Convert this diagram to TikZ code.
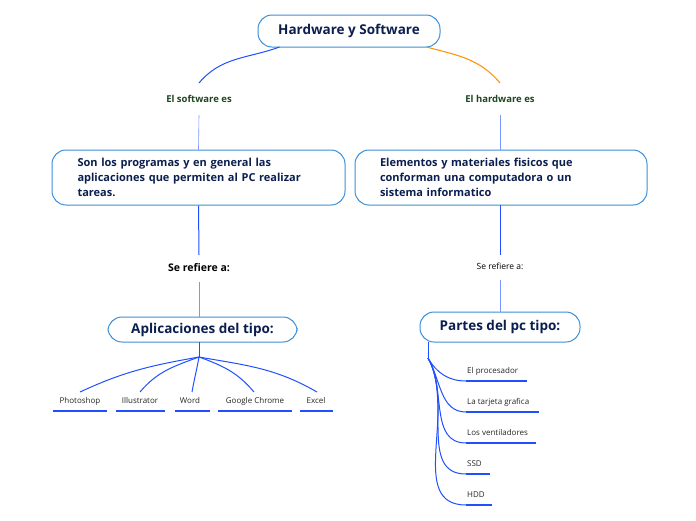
\documentclass[tikz,border=0pt]{standalone}
\usepackage{fontspec}
\setmainfont{Open Sans}
\begin{document}
\begin{tikzpicture}[x=1pt,y=-1pt,
  bx/.style={draw=boxc,line width=1pt,rounded corners=14pt,fill=white},
  lk/.style={draw=linec,line width=1pt},
  lkt/.style={draw=linec!60,line width=0.6pt},
  ul/.style={draw=linec,line width=1.6pt},
  it/.style={font=\fontsize{8}{9}\selectfont,text=black!85,inner sep=0pt}]
\definecolor{boxc}{HTML}{3C8FD6}\definecolor{linec}{HTML}{1F4FFF}
\definecolor{navy}{HTML}{0B1F4F}\definecolor{grn}{HTML}{1E4620}
\path[use as bounding box] (0,0) rectangle (696,520);
\node[bx,minimum width=182pt,minimum height=32pt,font=\bfseries\fontsize{13.5}{15}\selectfont,text=navy] (t) at (349,31) {Hardware y Software};
\node[font=\bfseries\fontsize{9.5}{11}\selectfont,text=grn] (s) at (199,99) {El software es};
\node[font=\bfseries\fontsize{9.5}{11}\selectfont,text=grn] (h) at (500,99) {El hardware es};
\draw[lk] (t.west)+(22,16) coordinate (ta) (ta) to[out=200,in=50] (199,83);
\draw[draw=orange!90!yellow,line width=1pt] (t.east)+(-14,16) coordinate (tb) (tb) to[out=-15,in=130] (500,83);
\node[bx,minimum width=293pt,minimum height=55pt,align=left,text width=242pt,font=\bfseries\fontsize{11}{15}\selectfont,text=navy] (b1) at (198.5,177.5) {Son los programas y en general las\\aplicaciones que permiten al PC realizar\\tareas.};
\node[bx,minimum width=292pt,minimum height=55pt,align=left,text width=242pt,font=\bfseries\fontsize{11}{15}\selectfont,text=navy] (b2) at (501,177.5) {Elementos y materiales fisicos que\\conforman una computadora o un\\sistema informatico};
\draw[lkt] (199,115) -- (b1.north);
\draw[lkt] (500,115) -- (500,150);
\node[font=\bfseries\fontsize{10.5}{12}\selectfont] (r1) at (199,268) {Se refiere a:};
\node[font=\fontsize{8.5}{10}\selectfont] (r2) at (500,266) {Se refiere a:};
\draw[lk] (b1.south) -- (199,255);
\draw[lk] (500,205) -- (500,255);
\node[bx,minimum width=189pt,minimum height=25pt,font=\bfseries\fontsize{13.5}{15}\selectfont,text=navy] (a) at (202.5,329.5) {Aplicaciones del tipo:};
\node[bx,minimum width=160pt,minimum height=30pt,font=\bfseries\fontsize{13.5}{15}\selectfont,text=navy] (p) at (500,327) {Partes del pc tipo:};
\draw[lkt] (199,282) -- (199,317);
\draw[lkt] (500,280) -- (p.north);
\draw[lk] (199,342) -- (199,357) coordinate (ja);
\foreach \n/\c/\a/\b/\t in {ph/80/53/107/Photoshop,il/140/116/165/Illustrator,wo/190/175/210/Word,gc/255/218/292/Google Chrome,ex/316/300/333/Excel}{
  \node[it,anchor=base] (\n) at (\c,403.5) {\t};
  \draw[ul] (\a,411) -- (\b,411);
}
\draw[lk] (ja) to[out=190,in=25] (80,392);
\draw[lk] (ja) to[out=200,in=50] (140,392);
\draw[lk] (ja) to[out=260,in=80] (192,392);
\draw[lk] (ja) to[out=-20,in=130] (254,392);
\draw[lk] (ja) to[out=-10,in=150] (317,392);
\draw[lk] (428,342) -- (428,358) coordinate (jp);
\foreach \n/\y/\b/\t in {e1/381/527/El procesador,e2/412/539/La tarjeta grafica,e3/443/536/Los ventiladores,e4/474/490/SSD,e5/505/492/HDD}{
  \node[it,anchor=base west] (\n) at (467,\y-8) {\t};
  \draw[lk] (jp) to[out=-60,in=180] (466,\y);
  \draw[ul] (466,\y) -- (\b,\y);
}
\end{tikzpicture}
\end{document}
